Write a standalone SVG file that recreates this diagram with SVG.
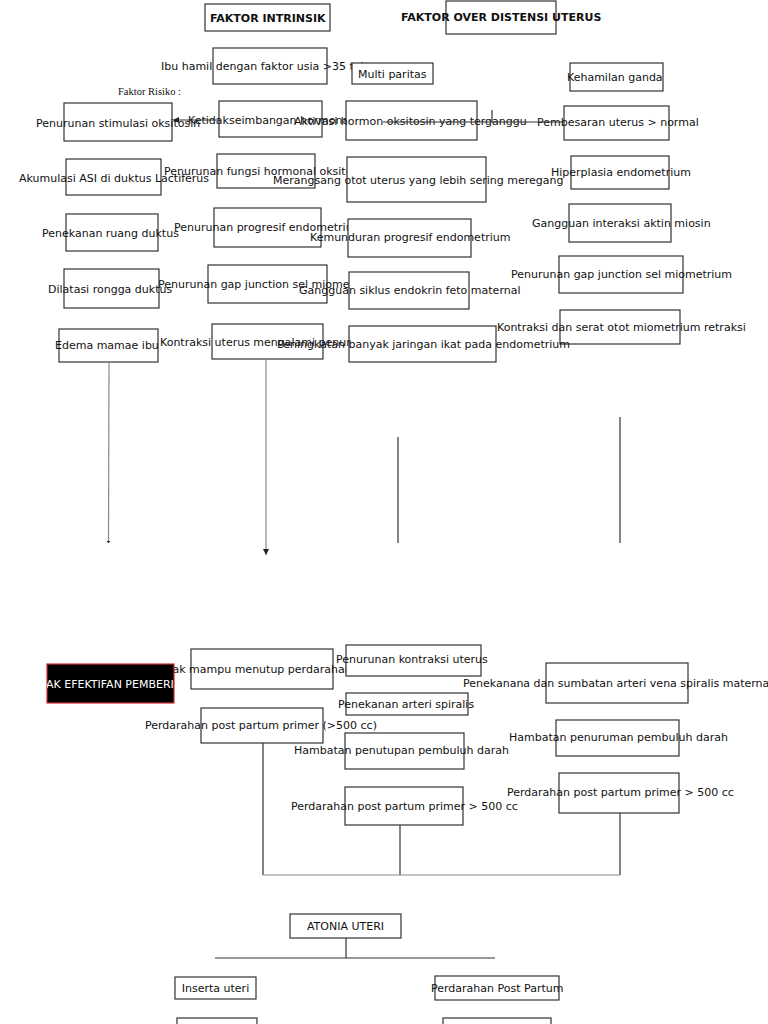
<svg xmlns="http://www.w3.org/2000/svg" width="768" height="1024" viewBox="0 0 768 1024">
<style>
  rect.bx { fill: #fff; stroke: #333; stroke-width: 1.2; }
  text { font-family: "DejaVu Sans", "Noto Sans", sans-serif; font-size: 11px; fill: #111; }
  text.b { font-weight: bold; }
  text.s { font-family: "Liberation Serif", serif; font-size: 10.5px; }
  text.w { fill: #fff; }
  .ln { stroke: #333; stroke-width: 1.2; fill: none; }
  .lg { stroke: #888; stroke-width: 1.2; fill: none; }
</style>
<defs>
  <marker id="ah" markerWidth="8" markerHeight="8" refX="6" refY="4" orient="auto" markerUnits="userSpaceOnUse">
    <path d="M0,1 L6,4 L0,7 Z" fill="#222"/>
  </marker>
  <marker id="ahs" markerWidth="6" markerHeight="6" refX="3" refY="3" orient="auto" markerUnits="userSpaceOnUse">
    <path d="M1,1 L3,3 L1,5 Z" fill="#222"/>
  </marker>
  <clipPath id="cb"><rect x="47" y="664" width="127" height="39"/></clipPath>
</defs>
<rect x="0" y="0" width="768" height="1024" fill="#fff"/>

<!-- titles -->
<g id="t-intrinsik"><rect class="bx" x="205" y="4" width="125" height="27"/><text class="b" x="210" y="22">FAKTOR INTRINSIK</text></g>
<g id="t-over"><rect class="bx" x="446" y="1" width="110" height="33"/><text class="b" x="401" y="21">FAKTOR OVER DISTENSI UTERUS</text></g>

<!-- middle-left column -->
<g id="n-usia"><rect class="bx" x="213" y="48" width="114" height="36"/><text x="161" y="70">Ibu hamil dengan faktor usia &gt;35 tahun</text></g>
<g id="n-risiko"><text class="s" x="118" y="95">Faktor Risiko :</text></g>
<g id="n-ketidak"><rect class="bx" x="219" y="101" width="103" height="36"/><text x="188" y="124">Ketidakseimbangan hormonal</text></g>
<g id="n-fungsi"><rect class="bx" x="217" y="154" width="98" height="34"/><text x="164" y="175">Penurunan fungsi hormonal oksitosin</text></g>
<g id="n-progresif"><rect class="bx" x="214" y="208" width="107" height="39"/><text x="174" y="231">Penurunan progresif endometrium</text></g>
<g id="n-gap1"><rect class="bx" x="208" y="265" width="119" height="38"/><text x="158" y="288">Penurunan gap junction sel miometrium</text></g>
<g id="n-kontraksi1"><rect class="bx" x="212" y="324" width="111" height="35"/><text x="160" y="346">Kontraksi uterus mengalami penurunan</text></g>

<!-- left column -->
<g id="n-stimulasi"><rect class="bx" x="64" y="103" width="108" height="38"/><text x="36" y="127">Penurunan stimulasi oksitosin</text></g>
<g id="n-akumulasi"><rect class="bx" x="66" y="159" width="95" height="36"/><text x="19" y="182">Akumulasi ASI di duktus Lactiferus</text></g>
<g id="n-penekanan"><rect class="bx" x="66" y="214" width="92" height="37"/><text x="42" y="237">Penekanan ruang duktus</text></g>
<g id="n-dilatasi"><rect class="bx" x="64" y="269" width="95" height="39"/><text x="48" y="293">Dilatasi rongga duktus</text></g>
<g id="n-edema"><rect class="bx" x="59" y="329" width="99" height="33"/><text x="55" y="349">Edema mamae ibu</text></g>

<!-- right column -->
<g id="n-ganda"><rect class="bx" x="570" y="63" width="93" height="28"/><text x="567" y="81">Kehamilan ganda</text></g>
<g id="n-pembesaran"><rect class="bx" x="564" y="106" width="105" height="34"/><text x="537" y="126">Pembesaran uterus &gt; normal</text></g>
<g id="n-hiperplasia"><rect class="bx" x="571" y="156" width="98" height="33"/><text x="551" y="176">Hiperplasia endometrium</text></g>
<g id="n-aktin"><rect class="bx" x="569" y="204" width="102" height="38"/><text x="532" y="227">Gangguan interaksi aktin miosin</text></g>
<g id="n-gap2"><rect class="bx" x="559" y="256" width="124" height="37"/><text x="511" y="278">Penurunan gap junction sel miometrium</text></g>
<g id="n-retraksi"><rect class="bx" x="560" y="310" width="120" height="34"/><text x="497" y="331">Kontraksi dan serat otot miometrium retraksi</text></g>

<!-- middle-right column -->
<g id="n-multi"><rect class="bx" x="352" y="63" width="81" height="21"/><text x="358" y="78">Multi paritas</text></g>
<g id="n-aktivasi"><rect class="bx" x="346" y="101" width="131" height="39"/><text x="294" y="125">Aktivasi hormon oksitosin yang terganggu</text></g>
<g id="n-merangsang"><rect class="bx" x="347" y="157" width="139" height="45"/><text x="273" y="184">Merangsang otot uterus yang lebih sering meregang</text></g>
<g id="n-kemunduran"><rect class="bx" x="348" y="219" width="123" height="38"/><text x="310" y="241">Kemunduran progresif endometrium</text></g>
<g id="n-siklus"><rect class="bx" x="349" y="272" width="120" height="37"/><text x="299" y="294">Gangguan siklus endokrin feto maternal</text></g>
<g id="n-jaringan"><rect class="bx" x="349" y="326" width="147" height="36"/><text x="277" y="348">Peningkatan banyak jaringan ikat pada endometrium</text></g>

<!-- bottom part -->
<g id="n-tidakmampu"><rect class="bx" x="191" y="649" width="142" height="40"/><text x="156" y="673">Tidak mampu menutup perdarahan</text></g>
<g id="n-efektif"><rect x="47" y="664" width="127" height="39" fill="#000" stroke="#d03030" stroke-width="1.2"/><text class="w" x="46" y="688" clip-path="url(#cb)">AK EFEKTIFAN PEMBERIA</text></g>
<g id="n-kontraksi2"><rect class="bx" x="346" y="645" width="135" height="31"/><text x="336" y="663">Penurunan kontraksi uterus</text></g>
<g id="n-sumbatan"><rect class="bx" x="546" y="663" width="142" height="40"/><text x="463" y="687">Penekanana dan sumbatan arteri vena spiralis materna</text></g>
<g id="n-spiralis"><rect class="bx" x="346" y="693" width="122" height="22"/><text x="338" y="708">Penekanan arteri spiralis</text></g>
<g id="n-pp1"><rect class="bx" x="201" y="708" width="122" height="35"/><text x="145" y="729">Perdarahan post partum primer (&gt;500 cc)</text></g>
<g id="n-penuruman"><rect class="bx" x="556" y="720" width="123" height="36"/><text x="509" y="741">Hambatan penuruman pembuluh darah</text></g>
<g id="n-penutupan"><rect class="bx" x="345" y="733" width="119" height="36"/><text x="294" y="754">Hambatan penutupan pembuluh darah</text></g>
<g id="n-pp3"><rect class="bx" x="559" y="773" width="120" height="40"/><text x="507" y="796">Perdarahan post partum primer &gt; 500 cc</text></g>
<g id="n-pp2"><rect class="bx" x="345" y="787" width="118" height="38"/><text x="291" y="810">Perdarahan post partum primer &gt; 500 cc</text></g>
<g id="n-atonia"><rect class="bx" x="290" y="914" width="111" height="24"/><text x="345.5" y="930" text-anchor="middle">ATONIA UTERI</text></g>
<g id="n-inserta"><rect class="bx" x="175" y="977" width="81" height="22"/><text x="215.5" y="992" text-anchor="middle">Inserta uteri</text></g>
<g id="n-ppp"><rect class="bx" x="435" y="976" width="124" height="24"/><text x="431" y="992">Perdarahan Post Partum</text></g>
<g id="n-cut1"><rect class="bx" x="177" y="1018" width="80" height="20"/></g>
<g id="n-cut2"><rect class="bx" x="443" y="1018" width="108" height="20"/></g>

<!-- connectors -->
<g id="connectors">
  <line class="ln" x1="219" y1="120" x2="173" y2="120" marker-end="url(#ah)"/>
  <line class="ln" x1="383" y1="122" x2="564" y2="122"/>
  <line class="ln" x1="492" y1="110" x2="492" y2="122"/>
  <line class="lg" x1="109" y1="362" x2="108.5" y2="543" marker-end="url(#ahs)"/>
  <line class="lg" x1="266" y1="359" x2="266" y2="555" marker-end="url(#ah)"/>
  <line class="ln" x1="398" y1="437" x2="398" y2="543"/>
  <line class="ln" x1="620" y1="417" x2="620" y2="543"/>
  <line class="ln" x1="263" y1="743" x2="263" y2="875"/>
  <line class="ln" x1="400" y1="825" x2="400" y2="875"/>
  <line class="ln" x1="620" y1="813" x2="620" y2="875"/>
  <line class="lg" x1="263" y1="875" x2="620" y2="875"/>
  <line class="ln" x1="346" y1="938" x2="346" y2="958"/>
  <line class="ln" x1="215" y1="958" x2="495" y2="958"/>
</g>
</svg>
